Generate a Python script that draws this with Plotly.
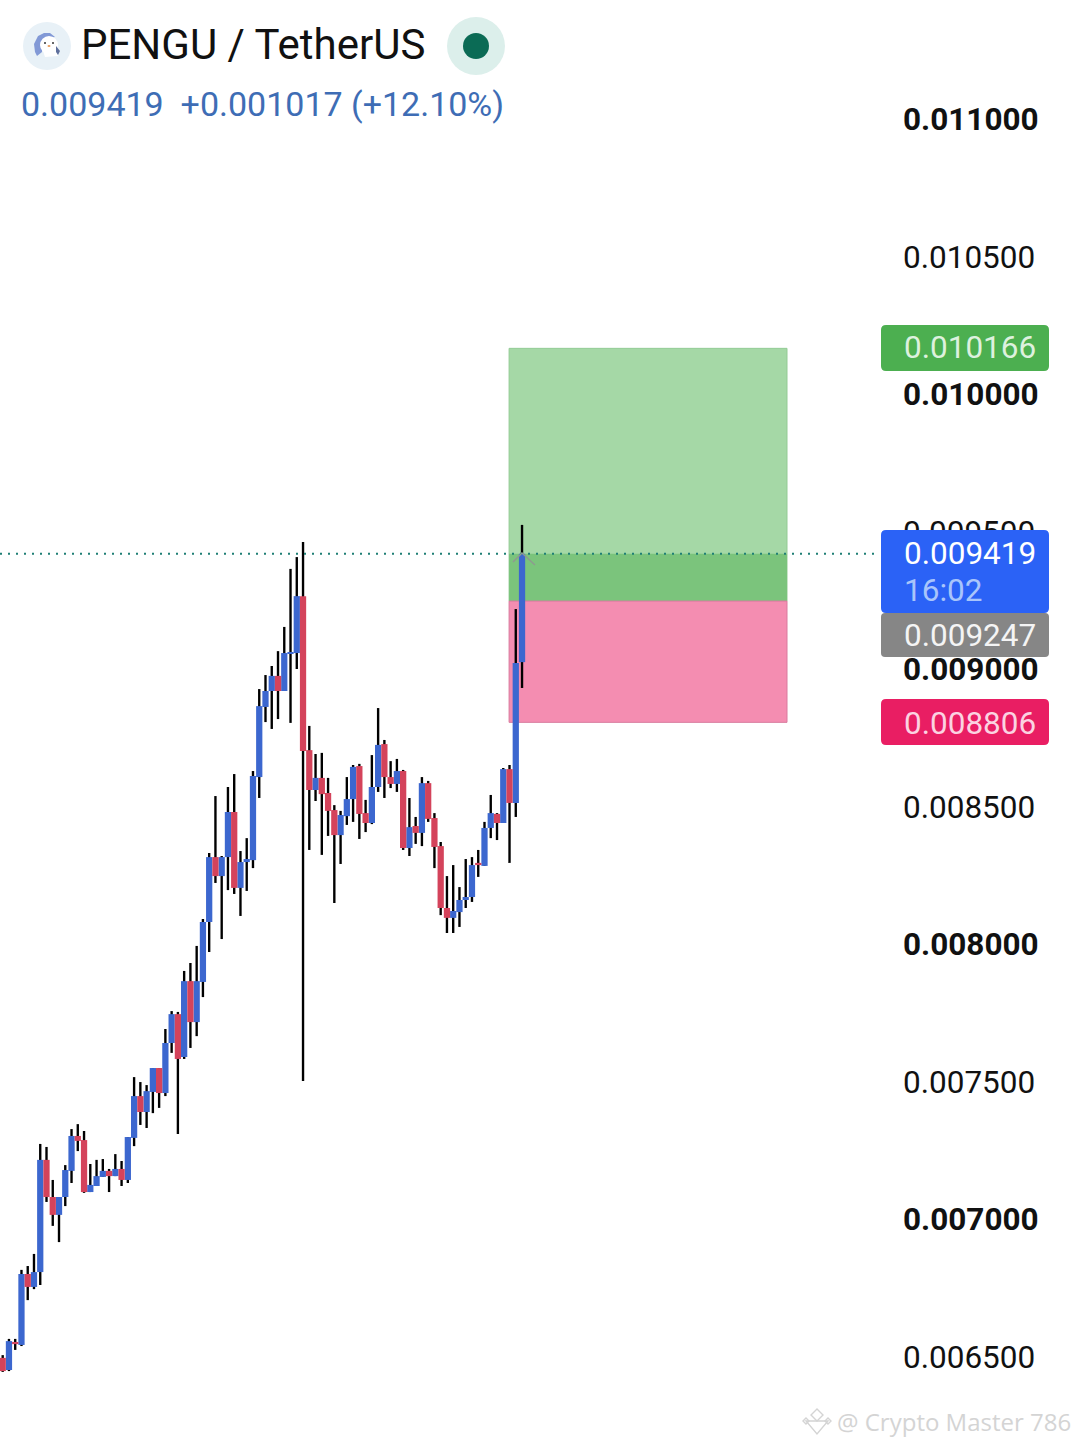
import plotly.graph_objects as go

W, H = 1080, 1447
UNIT = 1e-6  # candle values below are in millionths of USDT

opens = [6495,6451,6553,6542,6800,6753,6807,7215,7080,7015,7080,7175,7302,7287,7098,7120,7153,7175,7156,7182,7142,
         7295,7447,7389,7462,7549,7458,7640,7745,7589,7865,7716,7862,8080,8316,8247,8316,8480,8204,8298,8305,8607,
         8862,8920,8975,8920,9055,9058,9265,8705,8560,8604,8549,8487,8396,8465,8527,8647,8476,8440,8571,8727,8607,
         8582,8629,8349,8429,8404,8585,8458,8356,8131,8095,8116,8160,8171,8295,8284,8422,8473,8440,8636,8513,9025]
highs = [6505,6564,6564,6815,6829,6873,7273,7262,7142,7080,7196,7327,7345,7320,7200,7215,7218,7182,7236,7211,7298,
         7516,7498,7487,7549,7549,7691,7756,7753,7902,7931,7993,8091,8331,8538,8320,8571,8618,8338,8385,8629,8927,
         8978,9011,9065,9153,9364,9407,9462,8793,8691,8695,8604,8505,8484,8607,8651,8655,8524,8687,8858,8742,8665,
         8673,8633,8531,8462,8607,8593,8476,8371,8247,8287,8207,8309,8316,8342,8444,8542,8476,8640,8651,9218,9524]
lows = [6444,6447,6524,6538,6705,6745,6760,7062,6975,6916,7047,7131,7247,7095,7098,7120,7153,7098,7156,7120,7131,
        7265,7342,7331,7385,7404,7447,7604,7309,7582,7622,7665,7807,7971,8222,8018,8196,8182,8102,8193,8276,8531,
        8807,8782,8818,8920,8804,9000,7502,8342,8520,8324,8393,8149,8291,8433,8444,8382,8407,8436,8553,8531,8567,
        8553,8342,8320,8364,8356,8444,8276,8105,8040,8040,8062,8131,8153,8244,8284,8385,8378,8440,8295,8462,8931]
closes = [6447,6556,6545,6800,6753,6807,7215,7080,7015,7080,7178,7302,7284,7098,7124,7156,7175,7156,7182,7142,7298,
          7447,7389,7465,7549,7458,7640,7745,7582,7865,7716,7865,8080,8316,8247,8316,8480,8204,8298,8309,8611,8865,
          8920,8975,8920,9058,9062,9265,8702,8560,8604,8545,8484,8396,8469,8527,8644,8473,8440,8571,8724,8607,8582,
          8629,8349,8425,8404,8585,8455,8353,8131,8095,8120,8160,8171,8287,8287,8422,8476,8440,8636,8513,9022,9419]

tick_values = [0.0065, 0.0070, 0.0075, 0.0080, 0.0085, 0.0090, 0.0095, 0.0100, 0.0105, 0.0110]
tick_labels = ["0.006500", "<b>0.007000</b>", "0.007500", "<b>0.008000</b>", "0.008500", "<b>0.009000</b>",
               "0.009500", "<b>0.010000</b>", "0.010500", "<b>0.011000</b>"]

last_price = 0.009419
entry_price = 0.009247
target_price = 0.010166
stop_price = 0.008806

BLUE = "#3C67CF"
RED = "#D4435B"
FONT = "Roboto, sans-serif"

# axis calibration: 275 px per 0.001, 6.257 px per candle
y_bottom = 0.007 + (1219 - H) / 275000
y_top = 0.007 + 1219 / 275000
x_left = -2.7 / 6.257
x_right = (W - 2.7) / 6.257
zone_x0, zone_x1 = 80.93, 125.35


def px(x):
    return x / W


def py(y):
    return 1 - y / H


index = list(range(len(opens)))
up = [i for i in index if closes[i] >= opens[i]]
down = [i for i in index if closes[i] < opens[i]]

fig = go.Figure()
fig.add_trace(go.Bar(
    x=index,
    y=[(highs[i] - lows[i]) * UNIT for i in index],
    base=[lows[i] * UNIT for i in index],
    width=0.38, marker=dict(color="#000000", line_width=0), hoverinfo="skip", name="Range",
))
for subset, color, name in ((up, BLUE, "Up"), (down, RED, "Down")):
    fig.add_trace(go.Bar(
        x=subset,
        y=[abs(closes[i] - opens[i]) * UNIT for i in subset],
        base=[min(opens[i], closes[i]) * UNIT for i in subset],
        width=1.0, marker=dict(color=color, line_width=0), name=name,
    ))


def round_rect(x0, y0, x1, y1, r, color, layer="above"):
    path = (f"M {px(x0 + r)} {py(y0)} L {px(x1 - r)} {py(y0)} Q {px(x1)} {py(y0)} {px(x1)} {py(y0 + r)} "
            f"L {px(x1)} {py(y1 - r)} Q {px(x1)} {py(y1)} {px(x1 - r)} {py(y1)} "
            f"L {px(x0 + r)} {py(y1)} Q {px(x0)} {py(y1)} {px(x0)} {py(y1 - r)} "
            f"L {px(x0)} {py(y0 + r)} Q {px(x0)} {py(y0)} {px(x0 + r)} {py(y0)} Z")
    return dict(type="path", xref="paper", yref="paper", path=path, fillcolor=color, line_width=0, layer=layer)


def poly(points, fill=None, line=None, lw=1.0, closed=True):
    path = "M " + " L ".join(f"{px(x)} {py(y)}" for x, y in points) + (" Z" if closed else "")
    return dict(type="path", xref="paper", yref="paper", path=path,
                fillcolor=fill if fill else "rgba(0,0,0,0)",
                line=dict(color=line if line else "rgba(0,0,0,0)", width=lw if line else 0), layer="above")


def circle(cx, cy, rx, ry, color):
    return dict(type="circle", xref="paper", yref="paper", x0=px(cx - rx), x1=px(cx + rx),
                y0=py(cy + ry), y1=py(cy - ry), fillcolor=color, line_width=0, layer="above")


shapes = [
    # position tool zones
    dict(type="rect", xref="x", yref="y", x0=zone_x0, x1=zone_x1, y0=entry_price, y1=target_price,
         fillcolor="#A5D8A6", line=dict(color="#93CB95", width=1), layer="below"),
    dict(type="rect", xref="x", yref="y", x0=zone_x0, x1=zone_x1, y0=entry_price, y1=last_price,
         fillcolor="#7BC47C", line_width=0, layer="below"),
    dict(type="rect", xref="x", yref="y", x0=zone_x0, x1=zone_x1, y0=stop_price, y1=entry_price,
         fillcolor="#F48DB1", line=dict(color="#D97A9E", width=1), layer="below"),
    # last-price dotted line
    dict(type="line", xref="paper", yref="y", x0=0, x1=px(880), y0=last_price, y1=last_price,
         line=dict(color="#1F7F75", width=2, dash="2px,6px"), layer="above"),
    # chevron at last price
    poly([(513, 562), (522, 553), (535, 565)], line="#8E9A90", lw=1.5, closed=False),
    # price tags
    round_rect(881, 325, 1049, 371, 5, "#4CAF50"),
    round_rect(881, 530, 1049, 613, 5, "#2B62F6"),
    round_rect(881, 613, 1049, 657, 4, "#868686"),
    round_rect(881, 699, 1049, 745, 5, "#E91E63"),
    # header icons
    circle(47, 46, 24, 24, "#E8F1F7"),
    poly([(35, 52), (34, 44), (38, 36), (44, 33), (50, 33), (55, 37), (47, 38), (42, 45), (42, 52), (37, 56)],
         fill="#8299D6"),
    circle(49, 45, 9, 9, "#FFFFFF"),
    poly([(42, 48), (56, 48), (58, 56), (45, 57)], fill="#FFFFFF"),
    poly([(56, 46), (60, 51), (58, 55), (56, 52)], fill="#5E6F9C"),
    circle(45, 43, 1, 1, "#333333"),
    circle(53, 43, 1, 1, "#333333"),
    circle(49, 46, 1.5, 1, "#E79A5B"),
    circle(476, 46, 29, 29, "#DCEFEB"),
    circle(476, 46, 13, 13, "#0B6B55"),
    # watermark logo
    poly([(817, 1409), (823, 1415), (817, 1421), (811, 1415)], line="#D4D4D4", lw=1.4),
    poly([(817, 1421), (828, 1421), (817, 1434), (806, 1421)], line="#D4D4D4", lw=1.4),
    poly([(806, 1418), (809, 1421), (806, 1424), (803, 1421)], line="#D4D4D4", lw=1.4),
    poly([(828, 1418), (831, 1421), (828, 1424), (825, 1421)], line="#D4D4D4", lw=1.4),
]


def label(x, y, text, size, color, yref="paper"):
    return dict(xref="paper", yref=yref, x=px(x), y=y if yref == "y" else py(y), text=text, showarrow=False,
                xanchor="left", yanchor="middle", xshift=0, font=dict(family=FONT, size=size, color=color))


annotations = [
    label(79, 45, "PENGU / TetherUS", 42, "#111111"),
    label(19, 104, "0.009419&nbsp;&nbsp;+0.001017 (+12.10%)", 34, "#3E6DB5"),
    label(902, 348, "0.010166", 31.5, "#DDF1DE"),
    label(902, 554, "0.009419", 31.5, "#FFFFFF"),
    label(902, 591, "16:02", 31.5, "#A9C5FB"),
    label(902, 635, "0.009247", 31.5, "#F4F4F4"),
    label(902, 723, "0.008806", 31.5, "#FBD3E1"),
    dict(xref="paper", yref="paper", x=px(835), y=py(1421), text="@ Crypto Master 786", showarrow=False,
         xanchor="left", yanchor="middle", font=dict(family="Open Sans, sans-serif", size=24, color="#D4D4D4")),
]

fig.update_layout(
    width=W, height=H,
    margin=dict(l=0, r=0, t=0, b=0),
    paper_bgcolor="#FFFFFF", plot_bgcolor="#FFFFFF",
    barmode="overlay", showlegend=False, hovermode=False,
    shapes=shapes, annotations=annotations,
    font=dict(family=FONT, color="#111111"),
    xaxis=dict(range=[x_left, x_right], visible=False, fixedrange=True),
    yaxis=dict(range=[y_bottom, y_top], side="right", anchor="free", position=902 / W,
               tickmode="array", tickvals=tick_values, ticktext=tick_labels,
               tickfont=dict(family=FONT, size=31.5, color="#111111"),
               showgrid=False, zeroline=False, showline=False, ticks="", automargin=False, fixedrange=True),
)

fig.write_html("out.html", config=dict(displayModeBar=False),
               post_script="document.body.style.margin='0';document.body.style.overflow='hidden';")
